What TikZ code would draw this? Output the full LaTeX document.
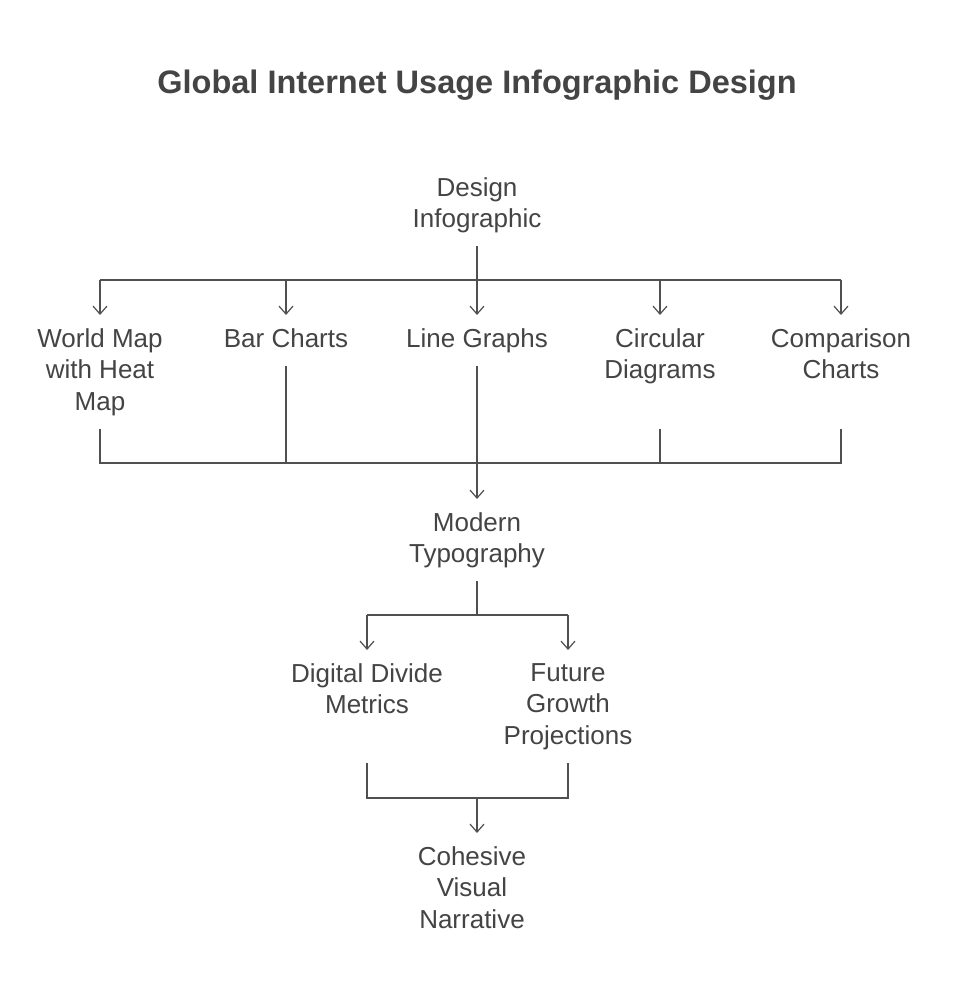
\documentclass[tikz,border=0pt]{standalone}
\usepackage{fontspec}
\setmainfont{Liberation Sans}
\usetikzlibrary{arrows.meta}
\definecolor{ink}{HTML}{444444}
\definecolor{wire}{HTML}{505050}

\begin{document}
\begin{tikzpicture}[x=1pt,y=-1pt,
  box/.style = {text=ink, font=\fontsize{26}{31.5}\selectfont, align=center, anchor=north, inner xsep=2pt, inner ysep=13pt, text depth=5.5pt},
  link/.style = {draw=wire, line width=1.2pt},
  arr/.style = {link, -{Straight Barb[length=8pt,width=14pt]}}]
  \fill[white] (0,0) rectangle (953,1000);
  \useasboundingbox (0,0) rectangle (953,1000);

  \node[text=ink, font=\bfseries\fontsize{32.5}{38}\selectfont] (title) at (477,85) {Global Internet Usage Infographic Design};

  \node[box] (design) at (477,164) {Design\\Infographic};

  \node[box] (world) at (100,315) {World Map\\with Heat\\Map};
  \node[box] (bar) at (286,315) {Bar Charts};
  \node[box] (line) at (477,315) {Line Graphs};
  \node[box] (circ) at (660,315) {Circular\\Diagrams};
  \node[box] (comp) at (841,315) {Comparison\\Charts};

  \node[box] (modern) at (477,499) {Modern\\Typography};

  \node[box] (digital) at (367,650) {Digital Divide\\Metrics};
  \node[box] (future) at (568,650) {Future\\Growth\\Projections};

  \node[box] (cohesive) at (472,833) {Cohesive\\Visual\\Narrative};

  \coordinate (t) at (477,280);
  \coordinate (m) at (477,463);
  \coordinate (s) at (477,615);
  \coordinate (j) at (477,798);

  % fan out
  \draw[link] (design.south) -- (t);
  \draw[link] (world.north |- t) -- (comp.north |- t);
  \foreach \n in {world,bar,line,circ,comp}
    \draw[arr] (\n.north |- t) -- (\n.north);

  % gather
  \draw[link] (world.south) -- (world.south |- m) -- (comp.south |- m) -- (comp.south |- world.south);
  \draw[link] (bar.south) -- (bar.south |- m);
  \draw[link] (circ.south |- world.south) -- (circ.south |- m);
  \draw[arr] (line.south) -- (modern.north);

  % second split
  \draw[link] (modern.south) -- (s);
  \draw[link] (digital.north |- s) -- (future.north |- s);
  \draw[arr] (digital.north |- s) -- (digital.north);
  \draw[arr] (future.north |- s) -- (future.north);

  \draw[link] (digital.south |- future.south) -- (digital.south |- j) -- (future.south |- j) -- (future.south);
  \draw[arr] (j) -- (j |- cohesive.north);
\end{tikzpicture}
\end{document}
